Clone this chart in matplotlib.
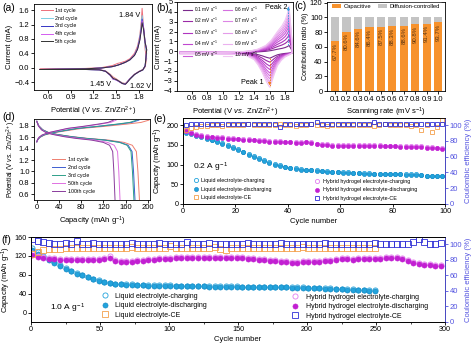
import numpy as np
import matplotlib
matplotlib.use('Agg')
import matplotlib.pyplot as plt

plt.rcParams['font.family'] = ['Liberation Sans', 'DejaVu Sans']
plt.rcParams['mathtext.fontset'] = 'custom'
plt.rcParams['mathtext.rm'] = 'Liberation Sans'
plt.rcParams['mathtext.it'] = 'Liberation Sans:italic'
plt.rcParams['axes.linewidth'] = 0.6
for k in ('xtick', 'ytick'):
    plt.rcParams[k + '.major.width'] = 0.6
    plt.rcParams[k + '.major.size'] = 2
    plt.rcParams[k + '.minor.width'] = 0.5
    plt.rcParams[k + '.minor.size'] = 1.2
    plt.rcParams[k + '.direction'] = 'out'
    plt.rcParams[k + '.major.pad'] = 1.2

W, H = 474, 348
TICK = 5.5
LAB = 5.5

# ---------------- (a) CV, first five cycles ----------------
cv_names = ['1st cycle', '2nd cycle', '3rd cycle', '4th cycle', '5th cycle']
cv_colors = ['#ee6f7b', '#7dcfe3', '#3434c4', '#d35cf0', '#333333']
cv_fwd_E = [0.5, 0.8, 1.1, 1.3, 1.45, 1.52, 1.56, 1.62, 1.68, 1.74, 1.78, 1.81, 1.83, 1.84, 1.86, 1.88, 1.9]
cv_rev_E = [1.9, 1.88, 1.85, 1.80, 1.74, 1.68, 1.64, 1.62, 1.58, 1.54, 1.50, 1.46, 1.42, 1.36, 1.28, 1.1, 0.8, 0.5]
cv1_fwd = [-0.04, -0.03, -0.02, 0.0, 0.06, 0.12, 0.14, 0.18, 0.25, 0.40, 0.60, 0.90, 1.30, 1.65, 1.10, 0.50, 0.25]
cv2_fwd = [-0.05, -0.04, -0.03, -0.01, 0.03, 0.07, 0.10, 0.15, 0.22, 0.36, 0.55, 0.85, 1.20, 1.45, 1.05, 0.60, 0.40]
cv3_fwd = [-0.05, -0.04, -0.03, -0.01, 0.03, 0.07, 0.10, 0.15, 0.22, 0.35, 0.53, 0.80, 1.10, 1.35, 1.10, 0.70, 0.50]
cv4_fwd = [-0.05, -0.04, -0.03, -0.01, 0.03, 0.07, 0.10, 0.15, 0.22, 0.35, 0.52, 0.78, 1.08, 1.30, 1.10, 0.70, 0.50]
cv5_fwd = [-0.05, -0.04, -0.03, -0.01, 0.03, 0.07, 0.10, 0.15, 0.22, 0.34, 0.51, 0.76, 1.05, 1.25, 1.05, 0.70, 0.50]
cv1_rev = [0.25, 0.02, -0.05, -0.10, -0.18, -0.30, -0.40, -0.44, -0.42, -0.37, -0.31, -0.26, -0.18, -0.09, -0.05, -0.04, -0.04, -0.04]
cv2_rev = [0.40, 0.05, -0.06, -0.11, -0.19, -0.31, -0.41, -0.45, -0.43, -0.38, -0.33, -0.30, -0.20, -0.10, -0.06, -0.05, -0.05, -0.05]
cv3_rev = [0.50, 0.05, -0.06, -0.11, -0.19, -0.31, -0.41, -0.46, -0.44, -0.39, -0.34, -0.32, -0.21, -0.10, -0.06, -0.05, -0.05, -0.05]
cv4_rev = [0.50, 0.05, -0.06, -0.11, -0.19, -0.31, -0.41, -0.46, -0.44, -0.39, -0.34, -0.32, -0.21, -0.10, -0.06, -0.05, -0.05, -0.05]
cv5_rev = [0.50, 0.05, -0.06, -0.11, -0.19, -0.32, -0.42, -0.46, -0.44, -0.38, -0.33, -0.30, -0.20, -0.10, -0.06, -0.05, -0.05, -0.05]

# ---------------- (b) CV at different scan rates ----------------
rates = [0.1, 0.2, 0.3, 0.4, 0.5, 0.6, 0.7, 0.8, 0.9, 1.0]
rate_colors = ['#7a2a8c', '#9b2aa6', '#b035c0', '#c047d0', '#cb5cd9',
               '#d470df', '#dc86e5', '#e49cea', '#ebb1ef', '#f1c5f4']
peak2_i = [0.7, 1.3, 1.8, 2.3, 2.75, 3.15, 3.55, 3.95, 4.3, 4.7]
peak1_i = [0.55, 0.95, 1.35, 1.7, 2.05, 2.35, 2.65, 2.95, 3.2, 3.5]
b_fwd_E = [0.45, 0.7, 1.0, 1.2, 1.35, 1.45, 1.55, 1.62, 1.70, 1.76, 1.80, 1.83, 1.85, 1.87, 1.89]
b_fwd_shape = [0, 0, 0.005, 0.01, 0.03, 0.07, 0.15, 0.26, 0.45, 0.58, 0.70, 0.85, 1.0, 0.6, 0.2]
b_rev_E = [1.89, 1.86, 1.80, 1.75, 1.70, 1.66, 1.62, 1.60, 1.56, 1.50, 1.45, 1.40, 1.30, 1.1, 0.8, 0.45]
b_rev_shape = [0.0, 0.05, 0.12, 0.22, 0.38, 0.62, 0.9, 1.0, 0.85, 0.55, 0.35, 0.2, 0.08, 0.04, 0.03, 0.03]

# ---------------- (c) contribution ratio ----------------
scan_labels = ['0.1', '0.2', '0.3', '0.4', '0.5', '0.6', '0.7', '0.8', '0.9', '1.0']
capacitive = [67.7, 80.6, 84.6, 86.4, 87.5, 88.3, 88.6, 90.8, 91.4, 93.7]

# ---------------- (d) charge/discharge profiles ----------------
gcd_names = ['1st cycle', '2nd cycle', '3rd cycle', '50th cycle', '100th cycle']
gcd_colors = ['#ef7f6f', '#3f5fd0', '#2fa08a', '#e070e2', '#8a3c9c']
charge_cap = [202, 184, 180, 143, 138]
discharge_cap = [185, 177, 175, 150, 141]
chg_frac = [0, 0.01, 0.03, 0.07, 0.15, 0.25, 0.4, 0.6, 0.8, 0.93, 1.0]
chg_V = [1.52, 1.56, 1.60, 1.64, 1.68, 1.71, 1.755, 1.79, 1.83, 1.86, 1.90]
dis_frac = [0, 0.02, 0.06, 0.12, 0.2, 0.35, 0.5, 0.7, 0.85, 0.93, 0.97, 0.985, 1.0]
dis_V = [1.88, 1.80, 1.73, 1.68, 1.65, 1.61, 1.58, 1.55, 1.51, 1.46, 1.35, 1.0, 0.5]

# ---------------- (e) cycling at 0.2 A/g ----------------
e_cycles = np.arange(1, 100, 2)
e_liq_chg = [184, 180, 176, 172, 167, 163, 159, 155, 150, 145, 139, 133, 127, 121, 116, 111, 106, 102, 98, 95,
             92, 90, 88, 87, 86, 85, 84, 83, 82, 81, 80, 80, 79, 79, 78, 78, 77, 77, 77, 76,
             76, 76, 75, 75, 75, 74, 72, 71, 72, 71]
e_liq_dis = [180, 177, 173, 169, 165, 161, 157, 153, 148, 143, 137, 131, 125, 119, 114, 109, 104, 100, 96, 93,
             90, 88, 87, 86, 85, 84, 83, 82, 81, 80, 79, 79, 78, 78, 77, 77, 76, 76, 76, 75,
             75, 75, 74, 74, 74, 73, 71, 70, 71, 70]
e_liq_ce = [94, 96, 98, 99, 99, 100, 100, 99, 100, 100, 100, 100, 101, 100, 100, 100, 100, 100, 101, 100,
            100, 99, 100, 100, 101, 100, 100, 99, 100, 100, 100, 100, 100, 100, 100, 100, 99, 100, 101, 100,
            100, 100, 100, 99, 100, 94, 100, 91, 98, 106]
e_hyb_chg = [186, 182, 178, 175, 172, 171, 170, 169, 168, 167, 166, 165, 164, 163, 162, 161, 160, 160, 159, 158,
             158, 157, 157, 158, 156, 153, 152, 151, 150, 150, 150, 150, 150, 149, 149, 149, 149, 149, 148, 148,
             148, 147, 147, 147, 146, 146, 145, 144, 143, 142]
e_hyb_dis = [184, 180, 176, 173, 170, 169, 168, 167, 166, 165, 164, 163, 162, 161, 160, 159, 158, 158, 157, 156,
             156, 155, 155, 156, 154, 151, 150, 149, 148, 148, 148, 148, 148, 147, 147, 147, 147, 147, 146, 146,
             146, 145, 145, 145, 144, 144, 143, 142, 141, 140]
e_hyb_ce = [100, 101, 101, 102, 101, 101, 102, 101, 101, 102, 101, 101, 101, 101, 102, 101, 101, 101, 97, 101,
            101, 101, 101, 101, 101, 104, 101, 101, 101, 101, 101, 101, 101, 101, 101, 101, 104, 101, 101, 102,
            101, 101, 101, 101, 101, 101, 101, 101, 101, 101]

# ---------------- (f) cycling at 1.0 A/g ----------------
f_liq_cycles = np.arange(1, 251, 4)
f_hyb_cycles = np.arange(1, 300, 4)
f_liq_chg = [137, 128, 120, 113, 107, 101, 95, 89, 84, 80, 76, 72, 69, 66, 64, 62, 61, 60, 60, 59,
             59, 58, 58, 58, 58, 58, 57, 57, 57, 57, 57, 57, 56, 56, 56, 56, 56, 56, 55, 55,
             55, 55, 55, 55, 55, 55, 55, 54, 54, 54, 53, 53, 53, 52, 52, 51, 51, 50, 50, 49,
             49, 48, 48]
f_liq_dis = [133, 125, 118, 111, 105, 99, 93, 88, 83, 79, 75, 71, 68, 65, 63, 61, 60, 59, 59, 58,
             58, 57, 57, 57, 57, 57, 56, 56, 56, 56, 56, 56, 55, 55, 55, 55, 55, 55, 54, 54,
             54, 54, 54, 54, 54, 54, 54, 53, 53, 53, 52, 52, 52, 51, 51, 50, 50, 49, 49, 48,
             48, 47, 47]
f_liq_ce = [87, 90, 92, 93, 94, 94, 95, 95, 95, 95, 95, 95, 95, 94.5, 95, 95, 95, 95, 96, 95,
            95, 95, 95, 95, 95, 98, 95, 95, 95, 95, 95, 95, 95, 96, 94, 92, 95, 95, 95, 95,
            95, 95, 95, 95, 95, 95, 95, 95, 95, 96, 95, 95, 95, 95, 95, 95, 95, 95, 95, 95,
            94.5, 95, 95]
f_hyb_chg = [126, 121, 118, 116, 115, 114, 114, 114, 113, 113, 113, 114, 114, 115, 119, 111, 109, 109, 110, 111,
             112, 113, 114, 115, 115, 116, 117, 117, 118, 118, 118, 118, 118, 117, 118, 118, 118, 118, 117, 116,
             115, 114, 113, 112, 111, 110, 109, 108, 108, 109, 109, 110, 110, 111, 112, 113, 115, 116, 114, 115,
             116, 116, 115, 116, 117, 118, 118, 116, 112, 108, 105, 104, 103, 101, 100]
f_hyb_dis = [122, 118, 116, 114, 113, 112, 112, 112, 111, 111, 111, 112, 112, 113, 116, 109, 107, 107, 108, 109,
             110, 111, 112, 113, 113, 114, 115, 115, 116, 116, 116, 116, 116, 115, 116, 116, 116, 116, 115, 114,
             113, 112, 111, 110, 109, 108, 107, 106, 106, 107, 107, 108, 108, 109, 110, 111, 113, 114, 112, 113,
             114, 114, 113, 114, 115, 116, 116, 114, 110, 106, 103, 102, 101, 99, 98]
f_hyb_ce = [107, 104, 102, 101, 100.5, 100.5, 101, 100.5, 104, 100.5, 100.5, 101, 100.5, 100.5, 100.5, 100, 100.5, 100.5, 101, 100.5,
            100.5, 100.5, 100.5, 101, 100.5, 100.5, 100.5, 100.5, 103, 100.5, 100.5, 100.5, 101, 100.5, 100.5, 100.5, 100.5, 100.5, 100.5, 101,
            100.5, 100.5, 100.5, 100.5, 100.5, 101, 100.5, 100.5, 100.5, 100.5, 100.5, 100.5, 100.5, 101, 100.5, 100.5, 100.5, 100.5, 100.5, 100.5,
            100.5, 100.5, 101, 100.5, 100.5, 100.5, 100.5, 100.5, 100.5, 102, 106, 103, 100.5, 100.5, 101]

CYAN = '#22a3dc'
CYAN_D = '#1585c0'
ORANGE = '#f4a04c'
PINK = '#e27cf0'
MAGENTA = '#c21fd2'
BLUE = '#2e2ed6'
RBLUE = '#5252e0'


def px_axes(fig, l, t, r, b):
    return fig.add_axes([l / W, 1 - b / H, (r - l) / W, (b - t) / H])


def panel(fig, x, y, s):
    fig.text(x / W, 1 - y / H, s, fontsize=7.5, ha='left', va='center')


fig = plt.figure(figsize=(W / 100, H / 100), dpi=100)
pot_label = r'Potential (V $\mathit{vs.}$ Zn/Zn$^{2+}$)'

# (a)
ax = px_axes(fig, 34, 4, 152, 90)
cv_fwd = [cv1_fwd, cv2_fwd, cv3_fwd, cv4_fwd, cv5_fwd]
cv_rev = [cv1_rev, cv2_rev, cv3_rev, cv4_rev, cv5_rev]
for fwd, rev, c, n in zip(cv_fwd, cv_rev, cv_colors, cv_names):
    ax.plot(cv_fwd_E + cv_rev_E, fwd + rev, color=c, lw=0.7, label=n)
ax.set_xlim(0.42, 1.97)
ax.set_ylim(-0.62, 1.77)
ax.set_xticks([0.6, 0.9, 1.2, 1.5, 1.8])
ax.set_yticks([-0.4, 0.0, 0.4, 0.8, 1.2, 1.6])
ax.tick_params(labelsize=TICK)
ax.set_xlabel(pot_label, fontsize=LAB, labelpad=2)
ax.set_ylabel('Current (mA)', fontsize=LAB, labelpad=1)
ax.text(1.67, 1.46, '1.84 V', fontsize=5.2, ha='center', va='center')
ax.text(1.29, -0.46, '1.45 V', fontsize=5.2, ha='center', va='center')
ax.text(1.82, -0.52, '1.62 V', fontsize=5.2, ha='center', va='center')
ax.legend(loc='upper left', bbox_to_anchor=(0.03, 1.0), fontsize=3.8, frameon=False,
          handlelength=2.2, labelspacing=0.55, handletextpad=0.5, borderaxespad=0.3)
panel(fig, 2, 8, '(a)')

# (b)
ax = px_axes(fig, 177, 2, 293, 91)
for ipa, ipc, c, r in zip(peak2_i, peak1_i, rate_colors, rates):
    i_fwd = [-0.12 + ipa * s for s in b_fwd_shape]
    i_rev = [-0.16 - ipc * s for s in b_rev_shape]
    ax.plot(b_fwd_E + b_rev_E, i_fwd + i_rev, color=c, lw=0.8, label=f'{r:.1f} mV s$^{{-1}}$')
ax.plot([1.84] * len(peak2_i), [-0.12 + p for p in peak2_i], ls=(0, (1.5, 1.2)), color='#3aa0e0', lw=0.7)
ax.annotate('', xy=(1.84, peak2_i[-1] + 0.1), xytext=(1.84, peak2_i[-2] - 0.4),
            arrowprops=dict(arrowstyle='-|>', color='#3aa0e0', lw=0.6, mutation_scale=4))
ax.plot([1.6] * len(peak1_i), [-0.16 - p for p in peak1_i], ls=(0, (1.5, 1.2)), color='#f08020', lw=0.7)
ax.annotate('', xy=(1.6, -0.16 - peak1_i[-1] - 0.1), xytext=(1.6, -0.16 - peak1_i[-2] + 0.4),
            arrowprops=dict(arrowstyle='-|>', color='#f08020', lw=0.6, mutation_scale=4))
ax.set_xlim(0.41, 1.9)
ax.set_ylim(-4.05, 5.0)
ax.set_xticks([0.6, 0.8, 1.0, 1.2, 1.4, 1.6, 1.8])
ax.set_yticks(range(-4, 6))
ax.tick_params(labelsize=TICK)
ax.set_xlabel(pot_label, fontsize=LAB, labelpad=2)
ax.set_ylabel('Current (mA)', fontsize=LAB, labelpad=1)
ax.text(1.68, 4.42, 'Peak 2', fontsize=5.2, ha='center', va='center')
ax.text(1.38, -3.15, 'Peak 1', fontsize=5.2, ha='center', va='center')
ax.legend(loc='upper left', bbox_to_anchor=(0.02, 1.01), ncol=2, fontsize=3.4, frameon=False,
          handlelength=2.0, labelspacing=0.45, handletextpad=0.5, columnspacing=0.8, borderaxespad=0.3)
panel(fig, 156, 8, '(b)')

# (c)
ax = px_axes(fig, 327, 2, 445, 91)
xpos = np.arange(len(capacitive))
diffusion = [100 - v for v in capacitive]
ax.bar(xpos, capacitive, width=0.72, color='#f7922c', label='Capacitive')
ax.bar(xpos, diffusion, bottom=capacitive, width=0.72, color='#c4c4c4', label='Diffusion-controlled')
for x, v in zip(xpos, capacitive):
    ax.text(x, v - 2, f'{v}%', rotation=90, ha='center', va='top', fontsize=4.3, color='#5a3410')
ax.set_xlim(-0.7, 9.6)
ax.set_ylim(0, 121)
ax.set_xticks(xpos)
ax.set_xticklabels(scan_labels)
ax.set_yticks(range(0, 121, 20))
ax.tick_params(labelsize=TICK)
ax.tick_params(axis='x', pad=1.5)
ax.set_xlabel(r'Scanning rate (mV s$^{-1}$)', fontsize=LAB, labelpad=2)
ax.set_ylabel('Contribution ratio (%)', fontsize=5.1, labelpad=1)
ax.legend(loc='upper center', bbox_to_anchor=(0.5, 1.0), ncol=2, fontsize=4.2, frameon=True,
          fancybox=False, edgecolor='white', framealpha=1, handlelength=1.5, handleheight=0.8,
          handletextpad=0.4, columnspacing=1.2, borderaxespad=0.1, borderpad=0.2)
panel(fig, 294, 6, '(c)')

# (d)
ax = px_axes(fig, 34, 119, 150, 200)
for qc, qd, c, n in zip(charge_cap, discharge_cap, gcd_colors, gcd_names):
    ax.plot([f * qc for f in chg_frac], chg_V, color=c, lw=0.7, label=n)
    ax.plot([f * qd for f in dis_frac], dis_V, color=c, lw=0.7)
ax.set_xlim(-5, 204)
ax.set_ylim(0.5, 1.92)
ax.set_xticks(range(0, 201, 40))
ax.set_yticks([0.6, 0.8, 1.0, 1.2, 1.4, 1.6, 1.8])
ax.tick_params(labelsize=TICK)
ax.set_xlabel(r'Capacity (mAh g$^{-1}$)', fontsize=LAB, labelpad=2)
ax.set_ylabel(pot_label, fontsize=4.9, labelpad=1)
ax.legend(loc='lower left', bbox_to_anchor=(0.12, 0.03), fontsize=3.8, frameon=False,
          handlelength=2.6, labelspacing=0.55, handletextpad=0.5, borderaxespad=0.3)
panel(fig, 2, 117, '(d)')


def cycling(ax, ax2, liq_x, hyb_x, liq_c, liq_d, liq_ce, hyb_c, hyb_d, hyb_ce, ms, lfs):
    h1, = ax.plot(liq_x, liq_c, 'o', ms=ms, mfc='white', mec=CYAN, mew=0.6, ls='none')
    h2, = ax.plot(liq_x, liq_d, 'o', ms=ms, mfc=CYAN, mec=CYAN_D, mew=0.4, ls='none')
    h4, = ax.plot(hyb_x, hyb_c, 'o', ms=ms, mfc='white', mec=PINK, mew=0.6, ls='none')
    h5, = ax.plot(hyb_x, hyb_d, 'o', ms=ms, mfc=MAGENTA, mec=MAGENTA, mew=0.4, ls='none')
    h3, = ax2.plot(liq_x, liq_ce, 's', ms=ms, mfc='none', mec=ORANGE, mew=0.6, ls='none')
    h6, = ax2.plot(hyb_x, hyb_ce, 's', ms=ms, mfc='none', mec=BLUE, mew=0.6, ls='none')
    ax2.spines['right'].set_color(RBLUE)
    ax2.tick_params(axis='y', colors=RBLUE, labelsize=lfs + 0.5)
    ax2.set_ylabel('Coulombic efficiency (%)', color=RBLUE, fontsize=LAB, labelpad=2)
    return [h1, h2, h3], [h4, h5, h6]


liq_names = ['Liquid electrolyte-charging', 'Liquid electrolyte-discharging', 'Liquid electrolyte-CE']
hyb_names = ['Hybrid hydrogel electrolyte-charging', 'Hybrid hydrogel electrolyte-discharging',
             'Hybrid hydrogel electrolyte-CE']

# (e)
ax = px_axes(fig, 183, 118, 445, 204)
ax2 = ax.twinx()
hl, hh = cycling(ax, ax2, e_cycles, e_cycles, e_liq_chg, e_liq_dis, e_liq_ce,
                 e_hyb_chg, e_hyb_dis, e_hyb_ce, 3.0, 5.0)
ax.set_xlim(0, 100)
ax.set_ylim(0, 218)
ax2.set_ylim(0, 109)
ax.set_xticks(range(0, 101, 20))
ax.set_yticks(range(0, 201, 50))
ax2.set_yticks(range(0, 101, 20))
ax.tick_params(labelsize=5.2)
ax.set_xlabel('Cycle number', fontsize=LAB, labelpad=2)
ax.set_ylabel(r'Capacity (mAh g$^{-1}$)', fontsize=LAB, labelpad=1)
ax.text(4, 94, r'0.2 A g$^{-1}$', fontsize=6, ha='left', va='center')
lg = ax2.legend(hl, liq_names, loc='lower left', bbox_to_anchor=(0.025, 0.01), fontsize=3.9, frameon=False,
                handlelength=1.0, labelspacing=0.6, handletextpad=0.6, borderaxespad=0.2)
ax2.add_artist(lg)
ax2.legend(hh, hyb_names, loc='lower left', bbox_to_anchor=(0.49, 0.0), fontsize=3.9, frameon=False,
           handlelength=1.0, labelspacing=0.6, handletextpad=0.6, borderaxespad=0.2)
panel(fig, 153, 119, '(e)')

# (f)
ax = px_axes(fig, 31, 237, 445, 322)
ax2 = ax.twinx()
hl, hh = cycling(ax, ax2, f_liq_cycles, f_hyb_cycles, f_liq_chg, f_liq_dis, f_liq_ce,
                 f_hyb_chg, f_hyb_dis, f_hyb_ce, 3.7, 5.0)
ax.set_xlim(0, 300)
ax.set_ylim(-19, 160)
ax2.set_ylim(0, 109)
ax.set_xticks(range(0, 301, 50))
ax.set_xticks(range(25, 300, 50), minor=True)
ax.set_yticks(range(0, 161, 40))
ax2.set_yticks(range(0, 101, 20))
ax.tick_params(labelsize=5.2)
ax.set_xlabel('Cycle number', fontsize=LAB, labelpad=2)
ax.set_ylabel(r'Capacity (mAh g$^{-1}$)', fontsize=LAB, labelpad=1)
ax.text(14, 9, r'1.0 A g$^{-1}$', fontsize=6, ha='left', va='center')
lg = ax2.legend(hl, liq_names, loc='lower left', bbox_to_anchor=(0.16, -0.01), fontsize=5.0, frameon=False,
                handlelength=1.0, labelspacing=0.35, handletextpad=1.0, borderaxespad=0.2)
ax2.add_artist(lg)
ax2.legend(hh, hyb_names, loc='lower left', bbox_to_anchor=(0.62, -0.02), fontsize=5.0, frameon=False,
           handlelength=1.0, labelspacing=0.35, handletextpad=1.0, borderaxespad=0.2)
panel(fig, 1, 240, '(f)')

fig.savefig('out.png', dpi=100)
